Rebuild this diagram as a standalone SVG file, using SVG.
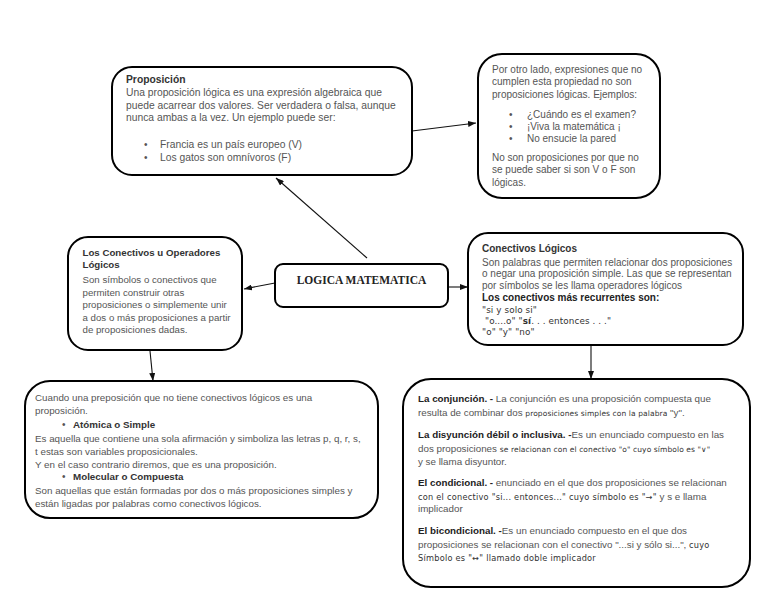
<svg xmlns="http://www.w3.org/2000/svg" width="768" height="594" viewBox="0 0 768 594">
<style>
.box{fill:#fff;stroke:#000;stroke-width:2}
.t{font-family:"Liberation Sans",Arial,sans-serif;font-size:10px;fill:#555}
.p{font-size:10.3px}
.s{font-size:9.7px}
.r{font-size:9.8px}
.b{font-weight:bold;fill:#333}
.k{font-weight:bold;fill:#222}
.alt{font-family:"DejaVu Sans",Verdana,sans-serif;font-size:7.5px;letter-spacing:0.1px;fill:#333}
.alt3{font-family:"DejaVu Sans",Verdana,sans-serif;font-size:8.2px;letter-spacing:0.25px;fill:#333}
.alt2{font-family:"DejaVu Sans",Verdana,sans-serif;font-size:8.8px;letter-spacing:0.1px;fill:#333}
.title{font-family:"Liberation Serif","Times New Roman",serif;font-size:11.5px;font-weight:bold;fill:#222}
.conn line{stroke:#111;stroke-width:1.1;marker-end:url(#arr)}
</style>
<defs>
<marker id="arr" markerUnits="userSpaceOnUse" markerWidth="8" markerHeight="6" refX="8" refY="3" orient="auto">
<path d="M0,0 L8,3 L0,6 z" fill="#111"/>
</marker>
</defs>
<rect width="768" height="594" fill="#fff"/>

<g id="connectors" class="conn">
<line x1="367" y1="258" x2="276" y2="178"/>
<line x1="412" y1="131" x2="476" y2="123"/>
<line x1="275" y1="283" x2="244" y2="289"/>
<line x1="448" y1="287" x2="468" y2="287"/>
<line x1="150" y1="351" x2="153" y2="381"/>
<line x1="591" y1="346" x2="591" y2="379"/>
</g>

<g id="proposicion">
<rect class="box" x="112" y="67" width="300" height="108" rx="20"/>
<text class="t p" x="126" y="82.5"><tspan class="b">Proposición</tspan></text>
<text class="t p" x="126" y="95.5">Una proposición lógica es una expresión algebraica que</text>
<text class="t p" x="126" y="108.5">puede acarrear dos valores. Ser verdadera o falsa, aunque</text>
<text class="t p" x="126" y="120.5">nunca ambas a la vez. Un ejemplo puede ser:</text>
<text class="t" x="144" y="147.5">•</text><text class="t p" x="160" y="147.5">Francia es un país europeo (V)</text>
<text class="t" x="144" y="160.5">•</text><text class="t p" x="160" y="160.5">Los gatos son omnívoros (F)</text>
</g>

<g id="no-proposiciones">
<rect class="box" x="478" y="54" width="182" height="144" rx="24"/>
<text class="t" x="492" y="72.5">Por otro lado, expresiones que no</text>
<text class="t" x="492" y="85">cumplen esta propiedad no son</text>
<text class="t" x="492" y="97.5">proposiciones lógicas. Ejemplos:</text>
<text class="t" x="509" y="117.5">•</text><text class="t" x="527" y="117.5">¿Cuándo es el examen?</text>
<text class="t" x="509" y="129.5">•</text><text class="t" x="527" y="129.5">¡Viva la matemática ¡</text>
<text class="t" x="509" y="141.5">•</text><text class="t" x="527" y="141.5">No ensucie la pared</text>
<text class="t" x="492" y="160.5">No son proposiciones por que no</text>
<text class="t" x="492" y="173">se puede saber si son V o F son</text>
<text class="t" x="492" y="185.5">lógicas.</text>
</g>

<g id="logica-matematica">
<rect class="box" x="275" y="264" width="173" height="43" rx="8"/>
<text class="title" x="361.5" y="284" text-anchor="middle">LOGICA MATEMATICA</text>
</g>

<g id="conectivos-operadores">
<rect class="box" x="68" y="237" width="174" height="113" rx="20"/>
<text class="t s" x="82.5" y="256"><tspan class="b">Los Conectivos u Operadores</tspan></text>
<text class="t s" x="82.5" y="268"><tspan class="b">Lógicos</tspan></text>
<text class="t s" x="82.5" y="282.5">Son símbolos o conectivos que</text>
<text class="t s" x="82.5" y="295.5">permiten construir otras</text>
<text class="t s" x="82.5" y="307.5">proposiciones o simplemente unir</text>
<text class="t s" x="82.5" y="320.5">a dos o más proposiciones a partir</text>
<text class="t s" x="82.5" y="333">de proposiciones dadas.</text>
</g>

<g id="conectivos-logicos">
<rect class="box" x="468" y="233" width="275" height="112" rx="20"/>
<text class="t" x="482" y="251.5"><tspan class="b">Conectivos Lógicos</tspan></text>
<text class="t" x="482" y="265.5">Son palabras que permiten relacionar dos proposiciones</text>
<text class="t" x="482" y="277">o negar una proposición simple. Las que se representan</text>
<text class="t" x="482" y="288.5">por símbolos se les llama operadores lógicos</text>
<text class="t" x="482" y="300.5"><tspan class="k">Los conectivos más recurrentes son:</tspan></text>
<text class="alt2" x="482" y="312.5">"si y solo si"</text>
<text class="alt2" x="485" y="323.5">"o....o" "<tspan font-weight="bold">sí</tspan>. . . entonces . . ."</text>
<text class="alt2" x="482" y="334.5">"o" "y" "no"</text>
</g>

<g id="atomica-molecular">
<rect class="box" x="25" y="381" width="353" height="137" rx="25"/>
<text class="t r" x="35" y="400.5">Cuando una preposición que no tiene conectivos lógicos es una</text>
<text class="t r" x="35" y="413.5">proposición.</text>
<text class="t" x="62" y="427.5">•</text><text class="t r" x="73" y="427.5"><tspan class="b">Atómica o Simple</tspan></text>
<text class="t r" x="35" y="442">Es aquella que contiene una sola afirmación y simboliza las letras p, q, r, s,</text>
<text class="t r" x="35" y="454.5">t estas son variables proposicionales.</text>
<text class="t r" x="35" y="467.5">Y en el caso contrario diremos, que es una proposición.</text>
<text class="t" x="62" y="479.5">•</text><text class="t r" x="73" y="479.5"><tspan class="b">Molecular o Compuesta</tspan></text>
<text class="t r" x="35" y="493.5">Son aquellas que están formadas por dos o más proposiciones simples y</text>
<text class="t r" x="35" y="506.5">están ligadas por palabras como conectivos lógicos.</text>
</g>

<g id="tipos-conectivos">
<rect class="box" x="403" y="379" width="347" height="208" rx="28"/>
<text class="t r" x="418" y="401.5"><tspan class="k">La conjunción. -</tspan> La conjunción es una proposición compuesta que</text>
<text class="t r" x="418" y="415.5">resulta de combinar dos <tspan class="alt">proposiciones simples con la palabra</tspan> "y".</text>
<text class="t r" x="418" y="437.5"><tspan class="k">La disyunción débil o inclusiva. -</tspan>Es un enunciado compuesto en las</text>
<text class="t r" x="418" y="451.5">dos proposiciones <tspan class="alt">se relacionan con el conectivo "o" cuyo símbolo es "∨"</tspan></text>
<text class="t r" x="418" y="464.5">y se llama disyuntor.</text>
<text class="t r" x="418" y="485.5"><tspan class="k">El condicional. -</tspan> enunciado en el que dos proposiciones se relacionan</text>
<text class="t r" x="418" y="499.5"><tspan class="alt3">con el conectivo "si... entonces..." cuyo símbolo es "→"</tspan> y s e llama</text>
<text class="t r" x="418" y="511.5">implicador</text>
<text class="t r" x="418" y="533.5"><tspan class="k">El bicondicional. -</tspan>Es un enunciado compuesto en el que dos</text>
<text class="t r" x="418" y="547.5">proposiciones se relacionan con el conectivo "...si y sólo si...", <tspan class="alt3">cuyo</tspan></text>
<text class="t r" x="418" y="561"><tspan class="alt3">Símbolo es "↔" llamado doble implicador</tspan></text>
</g>
</svg>
